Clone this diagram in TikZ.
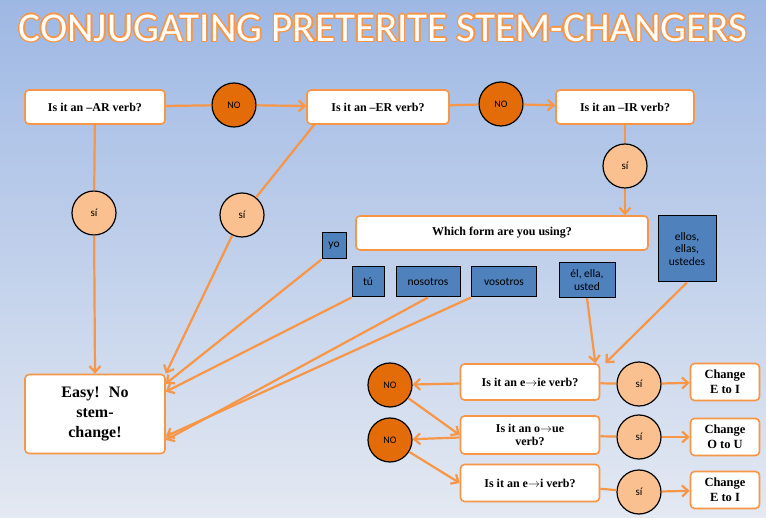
\documentclass[tikz,border=0pt]{standalone}
\usepackage{fontspec}
\setmainfont{Liberation Serif}
\newfontfamily\calfont{Carlito}
\usetikzlibrary{arrows.meta}
\definecolor{org}{HTML}{F79646}
\definecolor{dorg}{HTML}{E36C09}
\definecolor{lorg}{HTML}{FAC090}
\definecolor{blu}{HTML}{4F81BD}
\tikzset{
 qbox/.style={draw=org,line width=1.6pt,fill=white,rounded corners=4pt,font=\bfseries\fontsize{12}{13}\selectfont,align=center,inner sep=1pt},
 nocirc/.style={circle,draw=black,line width=1.2pt,fill=dorg,minimum size=44pt,inner sep=0pt,font=\calfont\fontsize{10}{10}\selectfont},
 sicirc/.style={circle,draw=black,line width=1.2pt,fill=lorg,minimum size=44pt,inner sep=0pt,font=\calfont\fontsize{11}{11}\selectfont},
 bbox/.style={draw=black,line width=1pt,fill=blu,font=\calfont\fontsize{11.5}{12.5}\selectfont,align=center,inner sep=2pt},
 con/.style={draw=org,line width=2.2pt},
 arr/.style={con,-{Straight Barb[length=6pt,width=11pt]}},
 ttl/.style={font=\calfont\fontsize{41}{41}\selectfont},
}
\begin{document}
\begin{tikzpicture}[x=1pt,y=-1pt]
\shade[top color={rgb,255:red,158;green,184;blue,228},bottom color={rgb,255:red,228;green,233;blue,242}] (0,0) rectangle (766,518);
\useasboundingbox (0,0) rectangle (766,518);
\foreach \a in {0,45,...,315}{\node[text=org,ttl] at ([shift={(\a:1.6pt)}]383,28) {CONJUGATING PRETERITE STEM-CHANGERS};}
\node[text=white,ttl] (title) at (383,28) {CONJUGATING PRETERITE STEM-CHANGERS};
\node[qbox,minimum width=140pt,minimum height=34pt] (ar) at (95,107) {Is it an --AR verb?};
\node[nocirc] (no1) at (234,105) {NO};
\node[qbox,minimum width=142pt,minimum height=34pt] (er) at (378,107) {Is it an --ER verb?};
\node[nocirc] (no2) at (501,104) {NO};
\node[qbox,minimum width=138pt,minimum height=34pt] (ir) at (625,107) {Is it an --IR verb?};
\node[sicirc] (si0) at (625,166) {sí};
\node[sicirc] (si1) at (94,213) {sí};
\node[sicirc] (si2) at (242,215) {sí};
\node[qbox,minimum width=292pt,minimum height=34pt] (which) at (502,233) {Which form are you using?};
\node[bbox,minimum width=24pt,minimum height=26pt] (yo) at (334,246) {yo};
\node[bbox,minimum width=32pt,minimum height=30pt] (tu) at (368,282) {tú};
\node[bbox,minimum width=64pt,minimum height=30pt] (nos) at (428,282) {nosotros};
\node[bbox,minimum width=65pt,minimum height=30pt] (vos) at (504,282) {vosotros};
\node[bbox,minimum width=56pt,minimum height=35pt] (el) at (587,280) {él, ella,\\usted};
\node[bbox,minimum width=58pt,minimum height=66pt] (ellos) at (687,249) {ellos,\\ellas,\\ustedes};
\node[qbox,minimum width=140pt,minimum height=79pt,font=\bfseries\fontsize{16}{20}\selectfont] (easy) at (95,414) {Easy!~ No\\stem-\\change!};
\node[qbox,minimum width=139pt,minimum height=36pt] (q1) at (530,382) {Is it an e$\rightarrow$ie verb?};
\node[qbox,minimum width=139pt,minimum height=38pt] (q2) at (530,435) {Is it an o$\rightarrow$ue\\verb?};
\node[qbox,minimum width=139pt,minimum height=37pt] (q3) at (530,483) {Is it an e$\rightarrow$i verb?};
\node[nocirc] (no3) at (390,385) {NO};
\node[nocirc] (no4) at (390,440) {NO};
\node[sicirc] (s1) at (639,384) {sí};
\node[sicirc] (s2) at (639,437) {sí};
\node[sicirc] (s3) at (639,492) {sí};
\node[qbox,minimum width=69pt,minimum height=37pt,font=\bfseries\fontsize{12.5}{15}\selectfont] (c1) at (725,382) {Change\\E to I};
\node[qbox,minimum width=69pt,minimum height=37pt,font=\bfseries\fontsize{12.5}{15}\selectfont] (c2) at (725,437) {Change\\O to U};
\node[qbox,minimum width=69pt,minimum height=37pt,font=\bfseries\fontsize{12.5}{15}\selectfont] (c3) at (725,490) {Change\\E to I};
\path[con] (ar) -- (no1);
\path[arr] (no1) -- (er);
\path[con] (er) -- (no2);
\path[arr] (no2) -- (ir);
\path[con] (ir) -- (si0);
\path[arr] (si0) -- (which.north east -| si0);
\path[con] (ar) -- (si1);
\path[arr] (si1) -- (easy.north);
\coordinate (erl) at ([xshift=8pt]er.south west);
\path[con] (erl) -- (si2);
\path[arr] (si2) -- (easy.north east);
\path[arr] (yo.south west) -- ([yshift=-10pt]easy.north east);
\path[arr] (tu.south west) -- ([yshift=-18pt]easy.north east);
\path[arr] (nos.south) -- ([yshift=-26pt]easy.east);
\path[arr] (vos.south west) -- ([yshift=18pt]easy.south east);
\path[arr] (el.south) -- ([xshift=-5pt]q1.north east);
\path[arr] (ellos.south) -- ([xshift=5pt]q1.north east);
\path[arr] (q1) -- (no3);
\path[arr] (no3) -- (q2.west);
\path[arr] (q2) -- (no4);
\path[arr] (no4) -- (q3.west);
\path[con] (q1) -- (s1); \path[arr] (s1) -- (c1);
\path[con] (q2) -- (s2); \path[arr] (s2) -- (c2);
\path[con] (q3) -- (s3); \path[arr] (s3) -- (c3);
\end{tikzpicture}
\end{document}
